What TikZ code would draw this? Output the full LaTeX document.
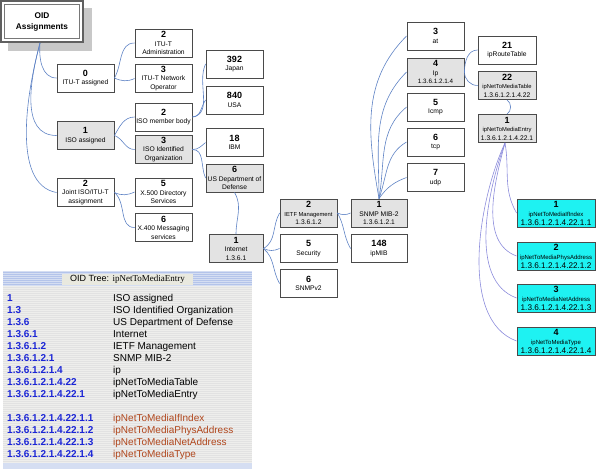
\documentclass[tikz,border=0pt]{standalone}
\usepackage{fontspec}
\setmainfont{Liberation Sans}
\newfontfamily\serifx{Liberation Serif}
\definecolor{boxline}{HTML}{4A4A4A}
\definecolor{boxgray}{HTML}{E3E3E3}
\definecolor{cyanfill}{HTML}{1EF2F2}
\definecolor{connblue}{HTML}{5E82C4}
\definecolor{connpurple}{HTML}{8C8CDC}
\definecolor{tablebg}{HTML}{EEEEEC}
\definecolor{tablestripe}{HTML}{E2E2E2}
\definecolor{headblue}{HTML}{D5DEF2}
\definecolor{headstripe}{HTML}{B4C4EA}
\definecolor{headlabel}{HTML}{E9E9DF}
\definecolor{numblue}{HTML}{1B25D6}
\definecolor{brownred}{HTML}{B0461C}
\definecolor{shadowgray}{HTML}{C8C8C8}
\definecolor{oidouter}{HTML}{606060}
\definecolor{oidinner}{HTML}{787878}
\newcommand\oidnum[1]{{\fontsize{9}{8.5}\selectfont\bfseries #1}}
\newcommand\oidsm[1]{{\fontsize{5.8}{8.5}\selectfont #1}}
\begin{document}
\begin{tikzpicture}[x=1pt,y=1pt,
  box/.style={draw=boxline, line width=0.9pt, fill=white, minimum width=57pt, minimum height=28pt,
    inner sep=0.5pt, align=center, font=\fontsize{6.7}{8.5}\selectfont},
  gbox/.style={box, fill=boxgray},
  cbox/.style={box, fill=cyanfill, minimum width=78pt, font=\fontsize{6}{9}\selectfont},
  conn/.style={draw=connblue, line width=0.6pt},
  pconn/.style={draw=connpurple, line width=0.6pt},
  numtxt/.style={anchor=base west, inner sep=0pt, text=numblue, font=\fontsize{10}{12}\selectfont\bfseries},
  nametxt/.style={anchor=base west, inner sep=0pt, font=\fontsize{10}{12}\selectfont},
]
\useasboundingbox (0,0) rectangle (596,-469);

% ---------- OID Assignments ----------
\fill[shadowgray] (8,-8) rectangle (92,-51);
\node[draw=oidouter, line width=2pt, fill=white, minimum width=82pt, minimum height=41pt,
  inner sep=0pt, align=center, font=\fontsize{8.3}{11}\selectfont\bfseries] (oid) at (42,-21.5) {OID\\Assignments};
\draw[oidinner, line width=1.2pt]
  ([shift={(4.5,-4.5)}]oid.north west) rectangle ([shift={(-4.5,4.5)}]oid.south east);

% ---------- boxes ----------
\node[box] (itu) at (85.5,-78) {\oidnum{0}\\ITU-T assigned};
\node[box] (admin) at (163.5,-43) {\oidnum{2}\\ITU-T\\Administration};
\node[box] (netop) at (163.5,-78.5) {\oidnum{3}\\ITU-T Network\\Operator};
\node[gbox] (iso) at (85.5,-135.5) {\oidnum{1}\\ISO assigned};
\node[box] (member) at (163.5,-117) {\oidnum{2}\\ISO member body};
\node[gbox] (isoid) at (163.5,-149.5) {\oidnum{3}\\ISO Identified\\Organization};
\node[box] (joint) at (85.5,-192.5) {\oidnum{2}\\Joint ISO/ITU-T\\assignment};
\node[box] (x500) at (163.5,-192) {\oidnum{5}\\X.500 Directory\\Services};
\node[box] (x400) at (163.5,-227.5) {\oidnum{6}\\X.400 Messaging\\services};
\node[box] (japan) at (234.5,-64) {\oidnum{392}\\Japan};
\node[box] (usa) at (234.5,-100) {\oidnum{840}\\USA};
\node[box] (ibm) at (234.5,-142.5) {\oidnum{18}\\IBM};
\node[gbox] (dod) at (234.5,-178) {\oidnum{6}\\US Department of\\Defense};
\node[gbox, minimum width=54pt] (internet) at (236,-248.5) {\oidnum{1}\\Internet\\1.3.6.1};
\node[gbox] (ietf) at (308.5,-213) {\oidnum{2}\\\oidsm{IETF Management}\\1.3.6.1.2};
\node[box] (security) at (308.5,-248.5) {\oidnum{5}\\Security};
\node[box] (snmpv2) at (308.5,-283.5) {\oidnum{6}\\SNMPv2};
\node[gbox, minimum width=56pt] (mib2) at (379,-213) {\oidnum{1}\\SNMP MIB-2\\1.3.6.1.2.1};
\node[box, minimum width=56pt] (ipmib) at (379,-248.5) {\oidnum{148}\\ipMIB};
\node[box] (at) at (435.5,-36) {\oidnum{3}\\at};
\node[gbox] (ip) at (435.5,-72) {\oidnum{4}\\Ip\\{\fontsize{6.3}{8.5}\selectfont 1.3.6.1.2.1.4}};
\node[box] (icmp) at (435.5,-107) {\oidnum{5}\\Icmp};
\node[box] (tcp) at (435.5,-142) {\oidnum{6}\\tcp};
\node[box] (udp) at (435.5,-177.5) {\oidnum{7}\\udp};
\node[box, minimum width=58pt] (rt) at (507,-50) {\oidnum{21}\\ipRouteTable};
\node[gbox, minimum width=58pt] (nt) at (507,-85.5) {\oidnum{22}\\\oidsm{ipNetToMediaTable}\\1.3.6.1.2.1.4.22};
\node[gbox, minimum width=58pt] (entry) at (507,-128.5) {\oidnum{1}\\\oidsm{ipNetToMediaEntry}\\1.3.6.1.2.1.4.22.1};
\node[cbox] (c1) at (556,-213) {\oidnum{1}\\ipNetToMediaIfIndex\\{\fontsize{8.2}{9}\selectfont 1.3.6.1.2.1.4.22.1.1}};
\node[cbox] (c2) at (556,-256) {\oidnum{2}\\ipNetToMediaPhysAddress\\{\fontsize{8.2}{9}\selectfont 1.3.6.1.2.1.4.22.1.2}};
\node[cbox] (c3) at (556,-298) {\oidnum{3}\\ipNetToMediaNetAddress\\{\fontsize{8.2}{9}\selectfont 1.3.6.1.2.1.4.22.1.3}};
\node[cbox] (c4) at (556,-341) {\oidnum{4}\\ipNetToMediaType\\{\fontsize{8.2}{9}\selectfont 1.3.6.1.2.1.4.22.1.4}};

% ---------- connectors ----------
\draw[conn] ([xshift=-2pt]oid.south) to[out=-95,in=180] (itu.west);
\draw[conn] ([xshift=-2pt]oid.south) to[out=-105,in=180] (iso.west);
\draw[conn] ([xshift=-2pt]oid.south) to[out=-105,in=170,looseness=0.8] (joint.west);
\draw[conn] (itu.east) to[out=60,in=180] (admin.west);
\draw[conn] (itu.east) to[out=-25,in=-155] (netop.west);
\draw[conn] (iso.east) to[out=60,in=180] (member.west);
\draw[conn] (iso.east) to[out=-20,in=180] (isoid.west);
\draw[conn] (joint.east) to[out=-25,in=-155] (x500.west);
\draw[conn] (joint.east) to[out=-40,in=180] (x400.west);
\draw[conn] (member.east) to[out=10,in=-115] (japan.west);
\draw[conn] (member.east) to[out=0,in=-125] (usa.west);
\draw[conn] (isoid.east) to[out=0,in=-140] (ibm.west);
\draw[conn] (isoid.east) to[out=0,in=115] (dod.west);
\draw[conn] (dod.south) to[out=-60,in=90] (internet.north);
\draw[conn] (internet.east) to[out=30,in=-120] (ietf.west);
\draw[conn] (internet.east) to[out=-25,in=-155] (security.west);
\draw[conn] (internet.east) to[out=-40,in=120] (snmpv2.west);
\draw[conn] (ietf.east) to[out=-25,in=-155] (mib2.west);
\draw[conn] (ietf.east) to[out=-60,in=120] (ipmib.west);
\draw[conn] (mib2.north) to[out=100,in=-135] (at.west);
\draw[conn] (mib2.north) to[out=90,in=-135] (ip.west);
\draw[conn] (mib2.north) to[out=80,in=-140] (icmp.west);
\draw[conn] (mib2.north) to[out=70,in=-150] (tcp.west);
\draw[conn] (mib2.north) to[out=55,in=-160] (udp.west);
\draw[conn] (ip.east) to[out=90,in=180] (rt.west);
\draw[conn] (ip.east) to[out=-90,in=180] (nt.west);
\draw[conn] (nt.south) to[out=-30,in=30] (entry.north);
\draw[pconn] ([xshift=-2pt]entry.south) to[out=-80,in=120] (c1.west);
\draw[pconn] ([xshift=-2pt]entry.south) to[out=-105,in=160,looseness=0.9] (c2.west);
\draw[pconn] ([xshift=-2pt]entry.south) to[out=-110,in=160,looseness=0.85] (c3.west);
\draw[pconn] ([xshift=-2pt]entry.south) to[out=-115,in=160,looseness=0.8] (c4.west);

% ---------- table ----------
\fill[tablebg] (3,-271) rectangle (252,-469);
\foreach \yy in {287,289,...,462} \draw[tablestripe, line width=0.5pt] (3,-\yy) -- (252,-\yy);
\fill[headblue] (3,-271) rectangle (252,-286);
\foreach \yy in {272,274,...,285} \draw[headstripe, line width=0.6pt] (3,-\yy) -- (252,-\yy);
\fill[headblue] (3,-463) rectangle (252,-469);
\node[fill=headlabel, minimum width=131pt, minimum height=11pt, inner sep=0pt,
  font=\fontsize{9}{10}\selectfont] (head) at (127.5,-279.5) {OID Tree: {\serifx ipNetToMediaEntry}};

\foreach \num/\txt/\yy [count=\i] in {1/ISO assigned/298, 1.3/ISO Identified Organization/310,
  1.3.6/US Department of Defense/322, 1.3.6.1/Internet/334, 1.3.6.1.2/IETF Management/346,
  1.3.6.1.2.1/SNMP MIB-2/358, 1.3.6.1.2.1.4/ip/370, 1.3.6.1.2.1.4.22/ipNetToMediaTable/382,
  1.3.6.1.2.1.4.22.1/ipNetToMediaEntry/394}
{
  \node[numtxt] (tn\i) at (7,-\yy-3.6) {\num};
  \node[nametxt] (tt\i) at (113,-\yy-3.6) {\txt};
}
\foreach \num/\txt/\yy [count=\i] in {1.3.6.1.2.1.4.22.1.1/ipNetToMediaIfIndex/418,
  1.3.6.1.2.1.4.22.1.2/ipNetToMediaPhysAddress/430,
  1.3.6.1.2.1.4.22.1.3/ipNetToMediaNetAddress/442,
  1.3.6.1.2.1.4.22.1.4/ipNetToMediaType/454}
{
  \node[numtxt] (bn\i) at (7,-\yy-3.6) {\num};
  \node[nametxt, text=brownred] (bt\i) at (113,-\yy-3.6) {\txt};
}
\end{tikzpicture}
\end{document}
